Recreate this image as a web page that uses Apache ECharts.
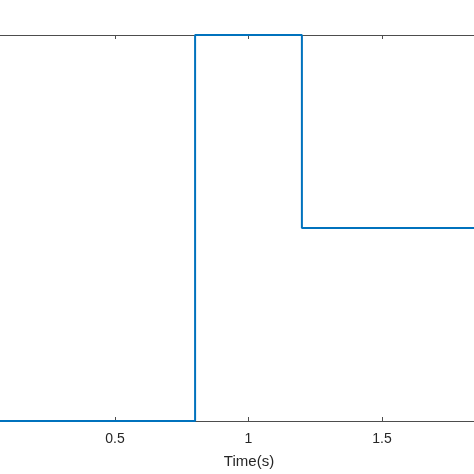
<!DOCTYPE html>
<html><head><meta charset="utf-8">
<script src="https://cdn.jsdelivr.net/npm/echarts@6/dist/echarts.min.js"></script>
<style>html,body{margin:0;padding:0;background:#fff}#c{width:474px;height:474px}</style>
</head><body><div id="c"></div>
<script>
const time = [0, 0.8, 1.2, 2];
const signal = [0, 1, 0.5, 0.5];
const xTicks = [0.5, 1, 1.5];
const xView = [0.0693, 1.8446];

const chart = echarts.init(document.getElementById('c'));
const axisColor = '#4d4d4d';
const tickCommon = {show: true, inside: true, length: 4, customValues: xTicks, lineStyle: {color: axisColor}};
chart.setOption({
  animation: false,
  grid: {left: 0, right: 0, top: 35, bottom: 53, containLabel: false},
  xAxis: [{
    type: 'value', min: xView[0], max: xView[1], position: 'bottom',
    name: 'Time(s)', nameLocation: 'middle', nameGap: 33,
    nameTextStyle: {fontFamily: 'Liberation Sans, Arial', fontSize: 15, color: '#262626', padding: [0, 0, 0, 24]},
    axisLine: {show: true, lineStyle: {color: axisColor, width: 1}},
    axisTick: tickCommon,
    axisLabel: {fontFamily: 'Liberation Sans, Arial', fontSize: 14, color: '#262626', margin: 11,
      customValues: xTicks, formatter: v => String(v)},
    splitLine: {show: false}
  }, {
    type: 'value', min: xView[0], max: xView[1], position: 'top',
    axisLine: {show: true, lineStyle: {color: axisColor, width: 1}},
    axisTick: tickCommon,
    axisLabel: {show: false}, splitLine: {show: false}
  }],
  yAxis: {
    type: 'value', min: 0, max: 1,
    axisLine: {show: false}, axisTick: {show: false}, axisLabel: {show: false}, splitLine: {show: false}
  },
  series: [{
    type: 'line', step: 'end', showSymbol: false, clip: true,
    data: time.map((t, i) => [t, signal[i]]),
    lineStyle: {color: '#0072BD', width: 2}
  }]
});
</script></body></html>
